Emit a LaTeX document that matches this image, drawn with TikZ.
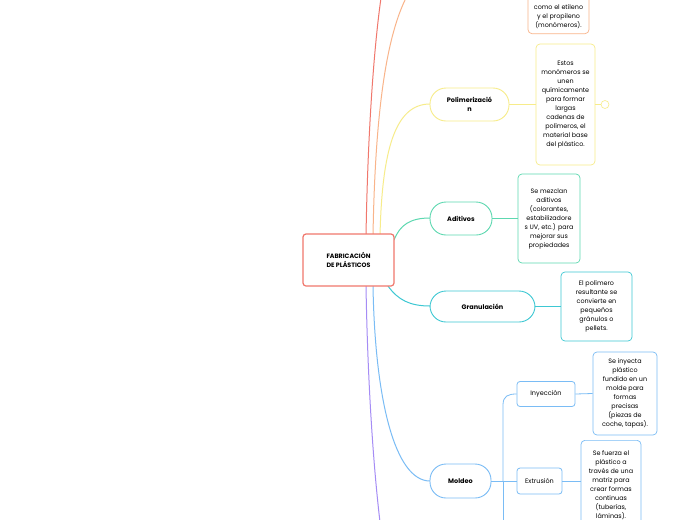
\documentclass[tikz,border=0pt]{standalone}
\usepackage{fontspec}
\setmainfont{Poppins}
\definecolor{cred}{HTML}{F0776C}
\definecolor{corg}{HTML}{F9B48A}
\definecolor{cyel}{HTML}{F7EC8A}
\definecolor{cgrn}{HTML}{5DD8B0}
\definecolor{ccya}{HTML}{3EC8D3}
\definecolor{cblu}{HTML}{7ABCF5}
\definecolor{cpur}{HTML}{A58CF5}
\begin{document}
\begin{tikzpicture}[x=1pt,y=-1pt,
  pill/.style={draw=#1,line width=0.9pt,rounded corners=16pt,fill=white,font=\fontsize{6.5}{9}\selectfont\bfseries,align=center,inner sep=0pt},
  desc/.style={draw=#1,line width=0.7pt,rounded corners=4pt,fill=white,font=\fontsize{6.4}{9}\selectfont,align=center,inner sep=0pt},
  sub/.style={draw=#1,line width=0.8pt,rounded corners=3pt,fill=white,font=\fontsize{6.5}{9}\selectfont,align=center,inner sep=0pt},
  conn/.style={draw=#1,line width=1pt}]
\fill[white] (0,0) rectangle (697,520);
\useasboundingbox (0,0) rectangle (697,520);
\begin{scope}
\clip (0,0) rectangle (697,520);
% connectors from root
\draw[conn=cred] (366,236) .. controls (368,120) and (375,40) .. (381,-2);
\draw[conn=corg] (373,236) .. controls (375,120) and (385,40) .. (406,-2);
\draw[conn=cyel] (380,236) .. controls (382,150) and (395,104) .. (430,104);
\draw[conn=cgrn] (394,240) .. controls (400,225) and (410,218) .. (430,218);
\draw[conn=ccya] (388,286) .. controls (398,300) and (410,306) .. (430,306);
\draw[conn=cblu] (373,286) .. controls (375,400) and (395,481) .. (430,481);
\draw[conn=cpur] (366,286) .. controls (368,400) and (375,480) .. (380,522);
% root
\node[draw=cred,line width=1.2pt,rounded corners=3pt,fill=white,minimum width=91pt,minimum height=52pt,font=\fontsize{6.3}{8.5}\selectfont\bfseries,align=center,inner sep=0pt] (root) at (348.5,260) {FABRICACIÓN\\DE PLÁSTICOS};
% orange top
\node[desc=corg,minimum width=61pt,minimum height=64pt,anchor=south] (orgd) at (558.5,34) {};
\node[font=\fontsize{6.4}{9}\selectfont,align=center,inner sep=0pt,anchor=south] (orgt) at (558.5,29) {como el etileno\\y el propileno\\(monómeros).};
% polimerizacion
\node[pill=cyel,minimum width=79pt,minimum height=33pt] (pol) at (469.5,104.5) {Polimerizació\\n};
\node[desc=cyel,minimum width=59pt,minimum height=121pt] (pold) at (565.5,104.5) {Estos\\monómeros se\\unen\\químicamente\\para formar\\largas\\cadenas de\\polímeros, el\\material base\\del plástico.};
\draw[conn=cyel,line width=0.8pt] (pol.east) -- (pold.west);
\node[draw=cyel,circle,minimum size=8pt,inner sep=0pt,line width=0.6pt] (polc) at (605,104.5) {};
\draw[conn=cyel,line width=0.6pt] (pold.east) -- (polc.west);
% aditivos
\node[pill=cgrn,minimum width=62pt,minimum height=33pt] (adi) at (461,218.5) {Aditivos};
\node[desc=cgrn,minimum width=62pt,minimum height=89pt] (adid) at (549,218.5) {Se mezclan\\aditivos\\(colorantes,\\estabilizadore\\s UV, etc.) para\\mejorar sus\\propiedades};
\draw[conn=cgrn,line width=0.8pt] (adi.east) -- (adid.west);
% granulacion
\node[pill=ccya,minimum width=105pt,minimum height=31pt] (gra) at (482.5,306.5) {Granulación};
\node[desc=ccya,minimum width=71pt,minimum height=69pt] (grad) at (596.5,306.5) {El polímero\\resultante se\\convierte en\\pequeños\\gránulos o\\pellets.};
\draw[conn=ccya,line width=0.8pt] (gra.east) -- (grad.west);
% moldeo
\node[pill=cblu,minimum width=61pt,minimum height=34pt] (mol) at (460.5,481) {Moldeo};
\coordinate (mj) at (503,481);
\draw[conn=cblu,line width=0.8pt] (mol.east) -- (mj);
\node[sub=cblu,minimum width=58pt,minimum height=25pt] (iny) at (546,394) {Inyección};
\node[sub=cblu,minimum width=45pt,minimum height=26pt] (ext) at (539.5,481) {Extrusión};
\draw[conn=cblu,line width=0.8pt] (mj) -- (503,405) .. controls (503,396) and (508,394) .. (iny.west);
\draw[conn=cblu,line width=0.8pt] (mj) -- (ext.west);
\draw[conn=cblu,line width=0.8pt] (mj) -- (503,522);
\node[desc=cblu,minimum width=64pt,minimum height=83pt] (inyd) at (625,393.5) {Se inyecta\\plástico\\fundido en un\\molde para\\formas\\precisas\\(piezas de\\coche, tapas).};
\draw[conn=cblu,line width=0.8pt] (iny.east) -- (inyd.west);
\node[desc=cblu,minimum width=60pt,minimum height=90pt,anchor=north] (extd) at (611,440) {Se fuerza el\\plástico a\\través de una\\matriz para\\crear formas\\continuas\\(tuberías,\\láminas).};
\draw[conn=cblu,line width=0.8pt] (ext.east) -- (extd.west|-ext.east);
\end{scope}
\end{tikzpicture}
\end{document}
